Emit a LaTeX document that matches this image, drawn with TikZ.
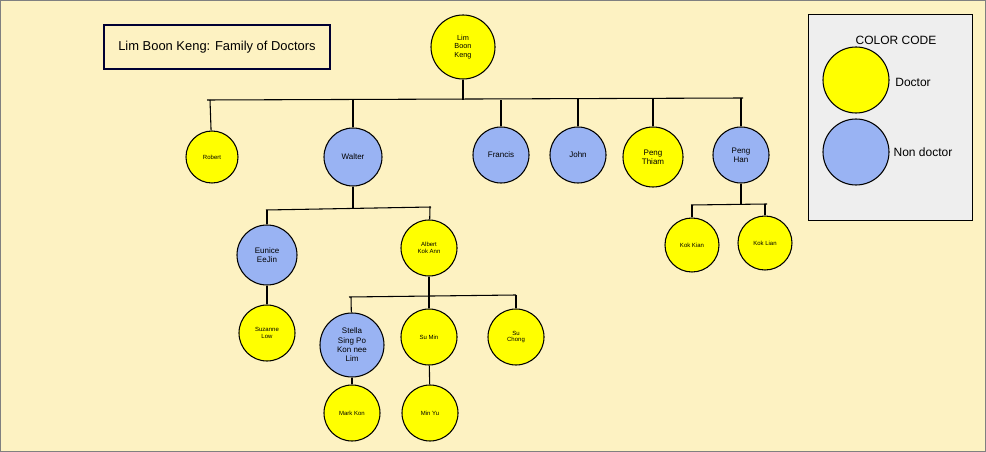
\documentclass[tikz,border=0pt]{standalone}
\usepackage{fontspec}
\setmainfont{Liberation Sans}
\definecolor{bg}{HTML}{FDF2C2}
\definecolor{doc}{HTML}{FFFF00}
\definecolor{non}{HTML}{99B3F3}
\definecolor{leg}{HTML}{EEEEEE}
\begin{document}
\begin{tikzpicture}[x=0.75pt,y=-0.75pt,
  p/.style={circle,draw=black,thick,inner sep=0pt,align=center,font=\fontsize{4.5}{5}\selectfont},
  d/.style={p,fill=doc},
  n/.style={p,fill=non,font=\fontsize{6}{7}\selectfont},
  ln/.style={black,thick}]
\fill[bg,draw=gray] (0.5,0.5) rectangle (985.5,451.5);
\useasboundingbox (0,0) rectangle (986,452);
\node[draw=black!80!blue,very thick,fill=bg,minimum width=226*0.75pt,minimum height=44*0.75pt,font=\fontsize{9.7}{11}\selectfont] (title) at (217,47) {Lim Boon Keng: Family of Doctors};
% legend
\node[draw=black,fill=leg,minimum width=164*0.75pt,minimum height=206*0.75pt] (legend) at (890,117) {};
\node[font=\fontsize{9}{11}\selectfont] (cc) at (896,40) {COLOR CODE};
\node[d,minimum size=66*0.75pt] (ly) at (856,80) {};
\node[font=\fontsize{9}{11}\selectfont] (ldoc) at (913,82) {Doctor};
\node[n,minimum size=66*0.75pt] (lb) at (856,152) {};
\node[font=\fontsize{9}{11}\selectfont] (lnon) at (923,152) {Non doctor};
% people
\node[d,minimum size=64*0.75pt,font=\fontsize{5.5}{6.5}\selectfont] (root) at (463,47) {Lim\\Boon\\Keng};
\node[d,minimum size=52*0.75pt] (robert) at (212,157) {Robert};
\node[n,minimum size=58*0.75pt] (walter) at (353,157) {Walter};
\node[n,minimum size=56*0.75pt] (francis) at (501,155) {Francis};
\node[n,minimum size=56*0.75pt] (john) at (578,155) {John};
\node[d,minimum size=60*0.75pt,font=\fontsize{6}{7}\selectfont] (thiam) at (653,157) {Peng\\Thiam};
\node[n,minimum size=56*0.75pt] (han) at (741,155) {Peng\\Han};
\node[n,minimum size=60*0.75pt] (eunice) at (267,255) {Eunice\\EeJin};
\node[d,minimum size=56*0.75pt] (albert) at (429,248) {Albert\\Kok Ann};
\node[d,minimum size=56*0.75pt] (suzanne) at (267,333) {Suzanne\\Low};
\node[n,minimum size=64*0.75pt] (stella) at (352,345) {Stella\\Sing Po\\Kon nee\\Lim};
\node[d,minimum size=56*0.75pt] (sumin) at (429,337) {Su Min};
\node[d,minimum size=56*0.75pt] (suchong) at (516,337) {Su\\Chong};
\node[d,minimum size=56*0.75pt] (mark) at (352,413) {Mark Kon};
\node[d,minimum size=56*0.75pt] (minyu) at (430,413) {Min Yu};
\node[d,minimum size=54*0.75pt] (kian) at (692,245) {Kok Kian};
\node[d,minimum size=54*0.75pt] (lian) at (765,243) {Kok Lian};
% connectors
\coordinate (b1l) at (207,100); \coordinate (b1r) at (743,98);
\draw[ln] (b1l) -- (b1r);
\draw[ln] (root) -- (463,100);
\draw[ln] (robert) -- (210,100);
\draw[ln] (walter) -- (353,100);
\draw[ln] (francis) -- (501,100);
\draw[ln] (john) -- (578,99);
\draw[ln] (thiam) -- (653,98);
\draw[ln] (han) -- (741,98);
\coordinate (b2l) at (266,210); \coordinate (b2r) at (431,207);
\draw[ln] (b2l) -- (b2r);
\draw[ln] (walter) -- (353,209);
\draw[ln] (eunice) -- (267,210);
\draw[ln] (albert) -- (430,207);
\draw[ln] (eunice) -- (suzanne);
\coordinate (b3l) at (349,297); \coordinate (b3r) at (516,295);
\draw[ln] (b3l) -- (b3r);
\draw[ln] (albert) -- (429,296);
\draw[ln] (stella) -- (351,297);
\draw[ln] (sumin) -- (429,296);
\draw[ln] (suchong) -- (516,295);
\draw[ln] (stella) -- (mark);
\draw[ln] (sumin) -- (minyu);
\coordinate (b4l) at (691,205); \coordinate (b4r) at (767,204);
\draw[ln] (b4l) -- (b4r);
\draw[ln] (han) -- (741,205);
\draw[ln] (kian) -- (692,205);
\draw[ln] (lian) -- (765,204);
\end{tikzpicture}
\end{document}
